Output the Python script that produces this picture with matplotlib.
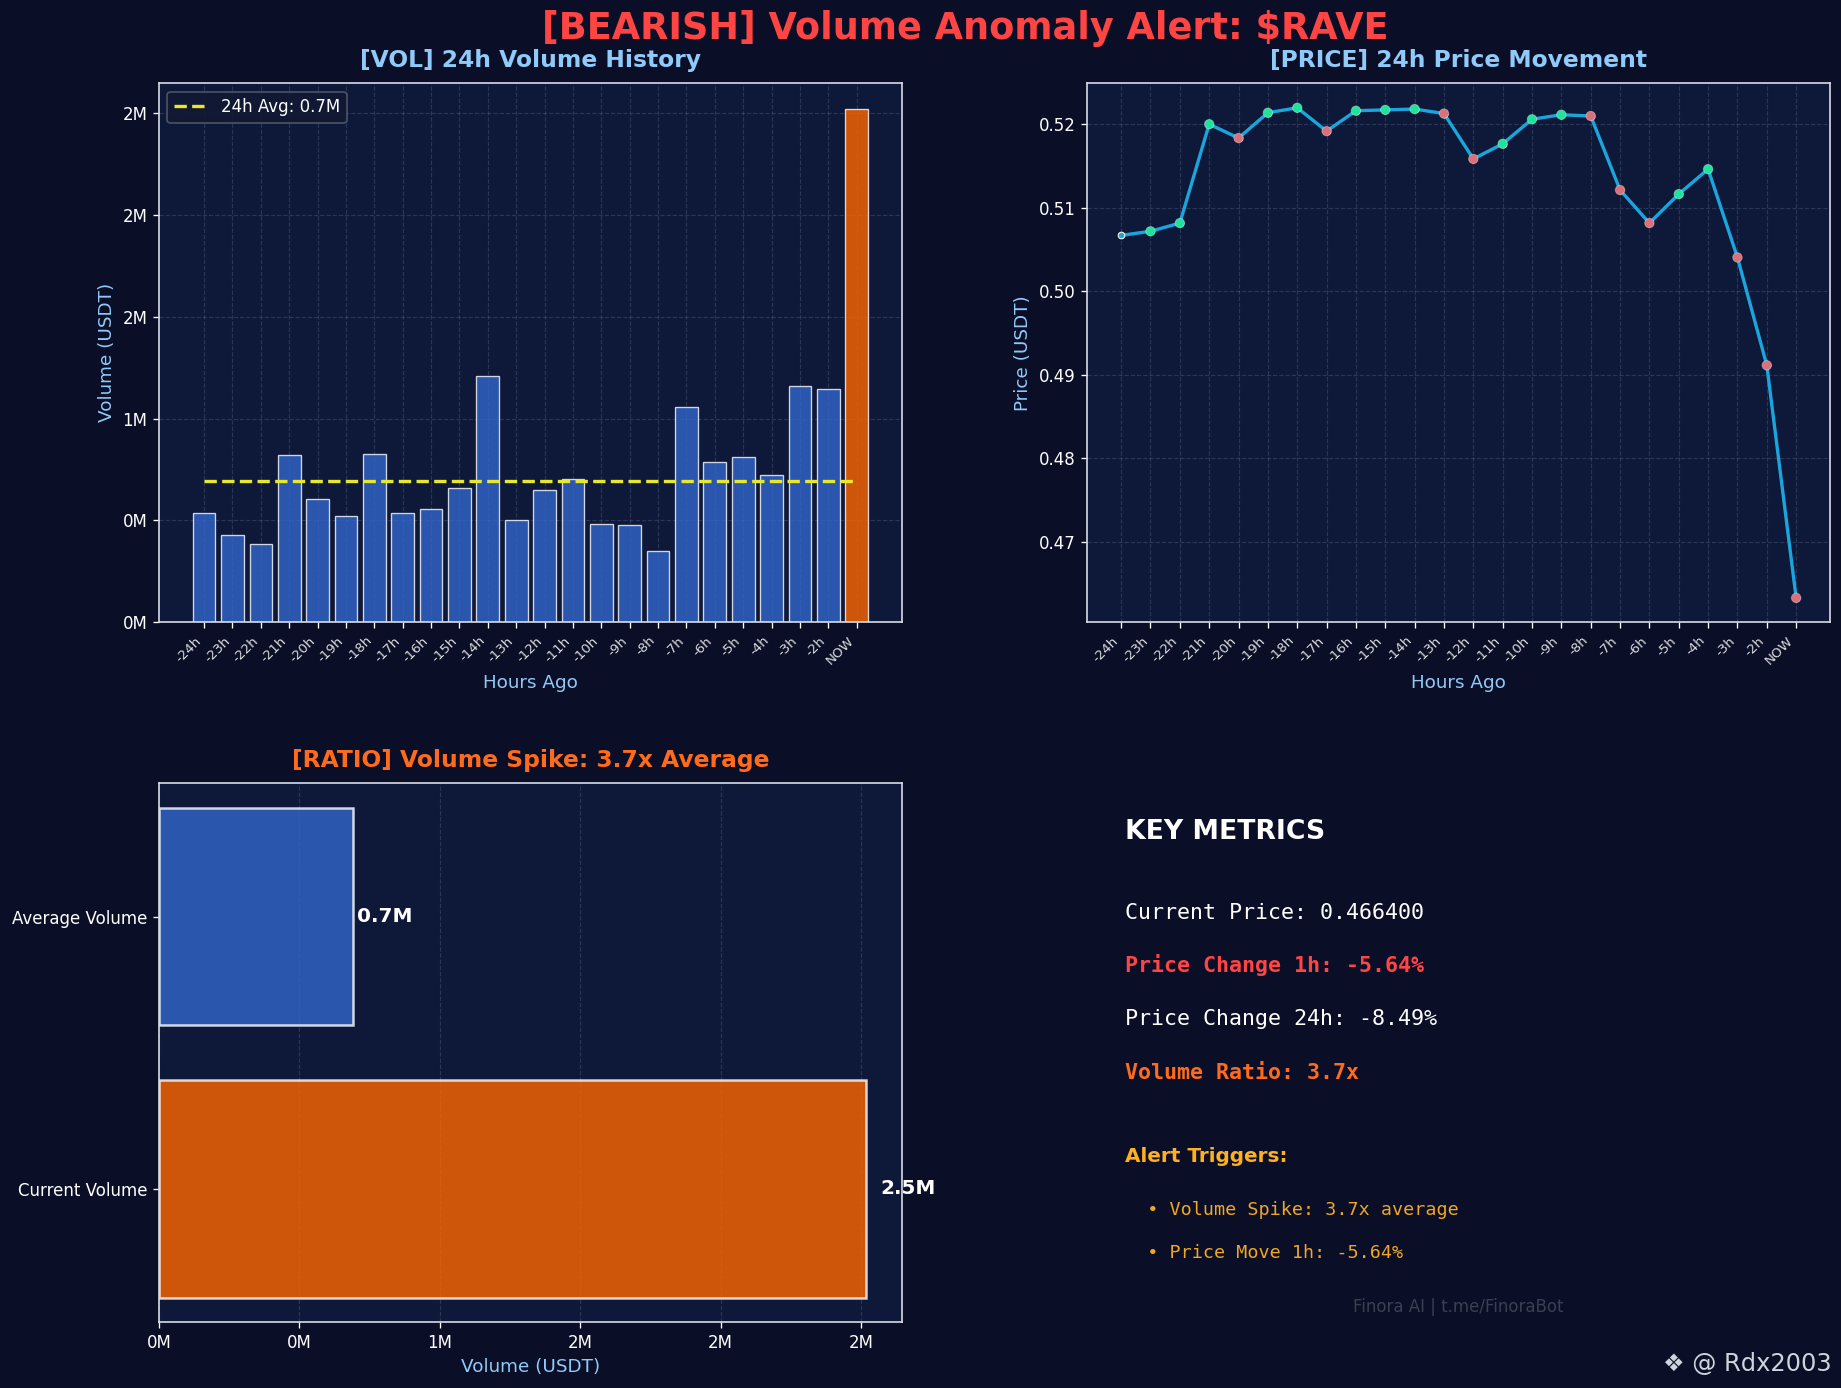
import numpy as np
import matplotlib
matplotlib.use("Agg")
import matplotlib.pyplot as plt
from matplotlib.ticker import FuncFormatter

# ---------------- data ----------------
hour_labels = ["-24h", "-23h", "-22h", "-21h", "-20h", "-19h", "-18h", "-17h",
               "-16h", "-15h", "-14h", "-13h", "-12h", "-11h", "-10h", "-9h",
               "-8h", "-7h", "-6h", "-5h", "-4h", "-3h", "-2h", "NOW"]
volumes_m = [0.535, 0.427, 0.383, 0.820, 0.603, 0.521, 0.826, 0.535, 0.555, 0.657,
             1.208, 0.501, 0.649, 0.703, 0.481, 0.477, 0.349, 1.056, 0.786, 0.810,
             0.721, 1.158, 1.146, 2.519]
prices = [0.50669, 0.50718, 0.50816, 0.52000, 0.51834, 0.52137, 0.52196, 0.51917,
          0.52161, 0.52171, 0.52181, 0.52127, 0.51584, 0.51765, 0.52059, 0.52113,
          0.52098, 0.51212, 0.50816, 0.51163, 0.51462, 0.50405, 0.49114, 0.46330]
ratio_labels = ["Current Volume", "Average Volume"]

suptitle_text = "[BEARISH] Volume Anomaly Alert: $RAVE"
current_price_text = "Current Price: 0.466400"
change_1h_text = "Price Change 1h: -5.64%"
change_24h_text = "Price Change 24h: -8.49%"
ratio_text = "Volume Ratio: 3.7x"
trigger_lines = ["  \u2022 Volume Spike: 3.7x average", "  \u2022 Price Move 1h: -5.64%"]

# ---------------- style ----------------
FIG_BG = "#0a0e27"
AX_BG = "#0e1838"
TITLE_BLUE = "#90caf9"
RED = "#ff4444"
ORANGE = "#ff6b1a"
AMBER = "#ffb020"

W, H, DPI = 1841, 1388, 120
fig = plt.figure(figsize=(W / DPI, H / DPI), dpi=DPI, facecolor=FIG_BG)

def frac(l, r, t, b):
    return [l / W, 1 - b / H, (r - l) / W, (b - t) / H]

ax_vol = fig.add_axes(frac(159.0, 901.8, 83.3, 622.4))
ax_price = fig.add_axes(frac(1087.4, 1829.9, 83.3, 622.4))
ax_ratio = fig.add_axes(frac(159.0, 901.8, 783.3, 1322.1))
ax_text = fig.add_axes(frac(1087.4, 1829.9, 783.3, 1322.1))

def style_axes(ax):
    ax.set_facecolor(AX_BG)
    for s in ax.spines.values():
        s.set_color("#d8dce6")
        s.set_linewidth(1.0)
    ax.tick_params(colors="white", labelsize=10)
    ax.set_axisbelow(True)

x = np.arange(len(hour_labels))
avg_vol = float(np.mean(volumes_m[:-1]))
cur_vol = volumes_m[-1]

# ---------------- volume history ----------------
style_axes(ax_vol)
bar_colors = ["#3366cc"] * (len(volumes_m) - 1) + ["#ff6600"]
ax_vol.bar(x, volumes_m, color=bar_colors, alpha=0.8,
           edgecolor=(1, 1, 1, 0.55), linewidth=0.8)
ax_vol.plot([x[0], x[-1]], [avg_vol, avg_vol], color="#e8e82a", linestyle="--",
            linewidth=2, label=f"24h Avg: {avg_vol:.1f}M", zorder=5)
ax_vol.set_xticks(x)
ax_vol.set_xticklabels(hour_labels, rotation=45, ha="right", fontsize=8, color="#dddddd")
ax_vol.yaxis.set_major_formatter(FuncFormatter(lambda v, p: f"{v:.0f}M"))
ax_vol.set_yticks([0, 0.5, 1.0, 1.5, 2.0, 2.5])
ax_vol.set_xlabel("Hours Ago", color=TITLE_BLUE, fontsize=11)
ax_vol.set_ylabel("Volume (USDT)", color=TITLE_BLUE, fontsize=11)
ax_vol.set_title("[VOL] 24h Volume History", color=TITLE_BLUE, fontsize=14,
                 fontweight="bold", pad=10)
ax_vol.grid(True, linestyle="--", alpha=0.25, color="#8090b0", linewidth=0.7)
leg = ax_vol.legend(loc="upper left", fontsize=10, facecolor="#111833",
                    edgecolor="#555a6a", labelcolor="white", framealpha=0.9)

# ---------------- price movement ----------------
style_axes(ax_price)
ax_price.plot(x, prices, color="#1aa6dc", linewidth=2, marker="o", markersize=4,
              markeredgecolor="white", markeredgewidth=0.6, zorder=3)
pcolors = ["#1fe39a" if prices[i] >= prices[i - 1] else "#d9707a" for i in range(1, len(prices))]
ax_price.scatter(x[1:], prices[1:], c=pcolors, s=32, zorder=4,
                 edgecolors=(1, 1, 1, 0.35), linewidths=0.6)
ax_price.set_xticks(x)
ax_price.set_xticklabels(hour_labels, rotation=45, ha="right", fontsize=8, color="#dddddd")
ax_price.set_xlabel("Hours Ago", color=TITLE_BLUE, fontsize=11)
ax_price.set_ylabel("Price (USDT)", color=TITLE_BLUE, fontsize=11)
ax_price.set_title("[PRICE] 24h Price Movement", color=TITLE_BLUE, fontsize=14,
                   fontweight="bold", pad=10)
ax_price.grid(True, linestyle="--", alpha=0.25, color="#8090b0", linewidth=0.7)

# ---------------- ratio ----------------
style_axes(ax_ratio)
ratio_vals = [cur_vol, avg_vol]
ax_ratio.barh([0, 1], ratio_vals, color=["#ff6600", "#3366cc"], alpha=0.8,
              edgecolor=(1, 1, 1, 0.75), linewidth=1.5)
ax_ratio.set_yticks([0, 1])
ax_ratio.set_yticklabels(ratio_labels)
ax_ratio.set_xticks([0, 0.5, 1.0, 1.5, 2.0, 2.5])
ax_ratio.xaxis.set_major_formatter(FuncFormatter(lambda v, p: f"{v:.0f}M"))
ax_ratio.set_xlabel("Volume (USDT)", color=TITLE_BLUE, fontsize=11)
ax_ratio.set_title(f"[RATIO] Volume Spike: {3.7}x Average", color=ORANGE, fontsize=14,
                   fontweight="bold", pad=10)
ax_ratio.grid(True, axis="x", linestyle="--", alpha=0.25, color="#8090b0", linewidth=0.7)
for i, v in enumerate(ratio_vals):
    ax_ratio.text(v * 1.02, i, f"{v:.1f}M", va="center", ha="left", color="white",
                  fontsize=12, fontweight="bold", clip_on=False)

# ---------------- key metrics ----------------
ax_text.axis("off")
ax_text.set_facecolor(FIG_BG)
ax_text.text(0.05, 0.897, "KEY METRICS", color="white", fontsize=16, fontweight="bold",
             transform=ax_text.transAxes, va="baseline")
ax_text.text(0.05, 0.749, current_price_text, color="white", fontsize=13,
             family="DejaVu Sans Mono", transform=ax_text.transAxes, va="baseline")
ax_text.text(0.05, 0.650, change_1h_text, color=RED, fontsize=13, fontweight="bold",
             family="DejaVu Sans Mono", transform=ax_text.transAxes, va="baseline")
ax_text.text(0.05, 0.551, change_24h_text, color="white", fontsize=13,
             family="DejaVu Sans Mono", transform=ax_text.transAxes, va="baseline")
ax_text.text(0.05, 0.451, ratio_text, color=ORANGE, fontsize=13, fontweight="bold",
             family="DejaVu Sans Mono", transform=ax_text.transAxes, va="baseline")
ax_text.text(0.05, 0.297, "Alert Triggers:", color=AMBER, fontsize=12, fontweight="bold",
             transform=ax_text.transAxes, va="baseline")
for yy, line in zip([0.199, 0.1195], trigger_lines):
    ax_text.text(0.05, yy, line, color="#f0a824", fontsize=11,
                 family="DejaVu Sans Mono", transform=ax_text.transAxes, va="baseline")
ax_text.text(0.5, 0.019, "Finora AI | t.me/FinoraBot", color="#3a4050", fontsize=10,
             ha="center", transform=ax_text.transAxes, va="baseline")

# ---------------- titles / watermark ----------------
fig.text(965 / W, 1 - 39.3 / H, suptitle_text, color=RED, fontsize=22, fontweight="bold",
         ha="center", va="baseline")
fig.text(1832 / W, 1 - 1371 / H, "\u2756 @ Rdx2003", color="#cfd3dc", fontsize=14.5,
         ha="right", va="baseline")

fig.savefig("out.png", dpi=DPI, facecolor=FIG_BG)
